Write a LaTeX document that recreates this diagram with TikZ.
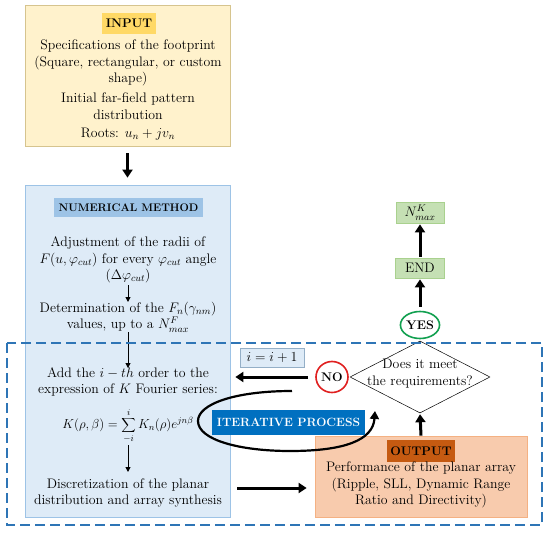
\RequirePackage{fix-cm}
\documentclass[tikz,border=0pt]{standalone}
\usetikzlibrary{arrows.meta,shapes.geometric,calc}
\definecolor{inFill}{HTML}{FFF2CC}
\definecolor{inLine}{HTML}{D6C48E}
\definecolor{inTag}{HTML}{FFD966}
\definecolor{nmFill}{HTML}{DEEBF7}
\definecolor{nmLine}{HTML}{9DC3E6}
\definecolor{nmTag}{HTML}{9DC3E6}
\definecolor{gnFill}{HTML}{C5E0B4}
\definecolor{gnLine}{HTML}{A9D18E}
\definecolor{outFill}{HTML}{F8CBAD}
\definecolor{outLine}{HTML}{F4B183}
\definecolor{outTag}{HTML}{C55A11}
\definecolor{dashBlue}{HTML}{2E75B6}
\definecolor{itBlue}{HTML}{0070C0}
\definecolor{noRed}{HTML}{E02020}
\definecolor{yesGreen}{HTML}{12A050}
\begin{document}
\begin{tikzpicture}[x=1pt,y=-1pt,
  every node/.style={font=\fontsize{13.8}{16.5}\selectfont, inner sep=0pt},
  box/.style={draw, rectangle, line width=0.8pt},
  txt/.style={align=center},
  tag/.style={rectangle, font=\fontsize{12}{16}\selectfont\bfseries},
  bigarrow/.style={line width=3pt, -{Triangle[length=8pt,width=10pt]}},
  thinarrow/.style={line width=1pt, -{Triangle[length=5pt,width=5pt]}},
  ring/.style={ellipse, line width=1.6pt, draw, font=\fontsize{12.5}{16}\selectfont\bfseries}]
\useasboundingbox (0,0) rectangle (550,536);
\fill[white] (0,0) rectangle (550,536);

% INPUT
\node[box, draw=inLine, fill=inFill, minimum width=205pt, minimum height=141pt] (input) at (127.5,75.5) {};
\node[tag, fill=inTag, minimum width=54pt, minimum height=21pt, font=\fontsize{12.5}{16}\selectfont\bfseries] (intag) at (129,23.5) {INPUT};
\node[txt] (in1) at (128,63) {Specifications of the footprint\\(Square, rectangular, or custom\\shape)};
\node[txt] (in2) at (128,106) {Initial far-field pattern\\distribution};
\node[txt] (in3) at (128,134) {Roots: $u_n + j v_n$};

% NUMERICAL METHOD
\node[box, draw=nmLine, fill=nmFill, minimum width=205pt, minimum height=332pt] (nm) at (127.5,351) {};
\node[tag, fill=nmTag, minimum width=149pt, minimum height=19pt, font=\fontsize{11}{14}\selectfont\bfseries] (nmtag) at (128.5,207.5) {NUMERICAL METHOD};
\node[txt] (nm1) at (128,260) {Adjustment of the radii of\\$F(u,\varphi_{cut})$ for every $\varphi_{cut}$ angle\\$(\Delta\varphi_{cut})$};
\node[txt] (nm2) at (128,317) {Determination of the $F_n(\gamma_{nm})$\\values, up to a $N^F_{max}$};
\node[txt] (nm3) at (128,382) {Add the $i-th$ order to the\\expression of $K$ Fourier series:};
\node[txt, font=\fontsize{13}{16}\selectfont] (nm4) at (128,426) {$K(\rho,\beta)=\displaystyle\sum_{-i}^{i} K_n(\rho)e^{jn\beta}$};
\node[txt] (nm5) at (128,493) {Discretization of the planar\\distribution and array synthesis};
\draw[thinarrow] (nm1.south) ++(0,2) coordinate (a1) -- (a1 |- 0,302);
\draw[thinarrow] (nm2.south) ++(0,0) coordinate (a2) -- (a2 |- 0,368);
\draw[thinarrow] (nm4.south) ++(0,2) coordinate (a3) -- (a3 |- 0,472);

\draw[bigarrow, shorten <=7pt, shorten >=7pt] (input.south) -- (nm.north);

% i = i + 1
\node[box, draw=nmLine!70!gray, fill=nmFill, line width=0.6pt, minimum width=64pt, minimum height=19pt] (inc) at (272,357.5) {$i=i+1$};

% diamond
\node[diamond, draw, line width=0.5pt, minimum width=140pt, minimum height=72pt, inner sep=0pt] (dia) at (420,377) {};
\node[txt] (diat) at (420,373.5) {Does it meet\\the requirements?};

% NO
\node[ring, draw=noRed, minimum width=32pt, minimum height=31pt] (no) at (332,377) {NO};
\draw[bigarrow, shorten <=7pt, shorten >=5pt] (no.west) -- (no.west -| nm.east);

% YES / END / Nmax
\node[ring, draw=yesGreen, minimum width=31pt, minimum height=27pt] (yes) at (420,325) {YES};
\node[box, draw=gnLine, fill=gnFill, minimum width=49pt, minimum height=20pt] (endb) at (420,268) {END};
\node[box, draw=gnLine, fill=gnFill, minimum width=48pt, minimum height=21pt] (nk) at (420,212.5) {$N^K_{max}$};
\draw[bigarrow, shorten <=4pt, shorten >=1pt] (yes.north) -- (endb.south);
\draw[bigarrow, shorten <=1pt, shorten >=1pt] (endb.north) -- (nk.south);

% OUTPUT
\node[box, draw=outLine, fill=outFill, minimum width=212pt, minimum height=81pt] (out) at (421,476.5) {};
\node[tag, fill=outTag, minimum width=68pt, minimum height=22pt, font=\fontsize{12.5}{16}\selectfont\bfseries] (outtag) at (421,451) {OUTPUT};
\node[txt] (out1) at (421,485) {Performance of the planar array\\(Ripple, SLL, Dynamic Range\\Ratio and Directivity)};
\draw[bigarrow, shorten >=1pt] (out.north) -- (dia.south);
\draw[bigarrow, shorten <=7pt, shorten >=8pt] (nm.east |- 0,488) coordinate (na) -- (na -| out.west);

% iterative loop
\coordinate (lp0) at (292,391);
\coordinate (lp1) at (198,421);
\coordinate (lp2) at (290,451);
\coordinate (lp3) at (375,411);
\draw[line width=2.2pt, -{Triangle[length=8pt,width=9pt]}]
  (lp0) .. controls (235,391) and (198,404) .. (lp1)
        .. controls (198,440) and (240,451) .. (lp2)
        .. controls (345,451) and (373,440) .. (lp3);
\node[tag, fill=itBlue, text=white, minimum width=153pt, minimum height=25pt] (iter) at (288.5,422.5) {ITERATIVE PROCESS};

% dashed region
\draw[dashBlue, line width=2.2pt, dash pattern=on 10pt off 5pt] (7,343) rectangle (542,525);
\end{tikzpicture}
\end{document}
